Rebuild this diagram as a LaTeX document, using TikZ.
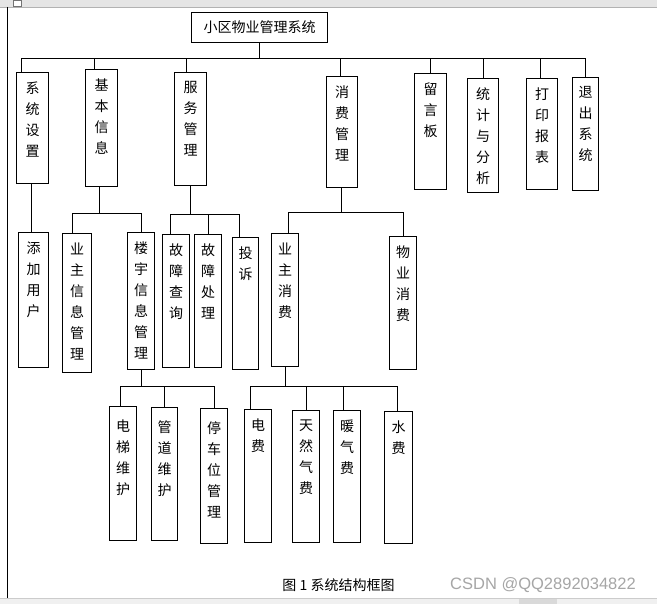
\documentclass[tikz,border=0pt]{standalone}
\usepackage{fontspec}
\setmainfont{Noto Sans CJK SC}
\newfontfamily\wmfont{Liberation Sans}
\usetikzlibrary{calc}

\tikzset{
    modbox/.style={draw, line width=1.1pt, anchor=north west, inner sep=0pt},
    vlabel/.style={anchor=north, yshift=-9.5pt, align=center, inner sep=0pt,
        font=\fontsize{14}{21}\selectfont},
    link/.style={line width=1pt}
}

\begin{document}
\begin{tikzpicture}[x=1pt, y=-1pt]

    % Page frame of the screenshot
    \useasboundingbox (0,0) rectangle (657,604);
    \fill[white] (0,0) rectangle (657,604);
    \fill[black!10] (0,0) rectangle (657,7);
    \draw[black!30] (0,7) -- (657,7);
    \draw[black!55, fill=white] (13,0) rectangle (21,6);
    \fill[black!6] (0,598) rectangle (657,604);
    \draw[black!20] (0,598) -- (657,598);
    \fill[black!15] (519,599) rectangle (557,604);
    \draw[line width=0.8pt] (7.3,7) -- (7.3,598);

    % Root
    \node[modbox, minimum width=136, minimum height=30,
        font=\fontsize{14}{16}\selectfont] (root) at (191,12) {小区物业管理系统};

    % First level modules
    \node[modbox, minimum width=32, minimum height=111, label={[vlabel]north:系\\统\\设\\置}] (sysset) at (16,72) {};
    \node[modbox, minimum width=32, minimum height=117, label={[vlabel]north:基\\本\\信\\息}] (basic) at (85,69) {};
    \node[modbox, minimum width=32, minimum height=113, label={[vlabel]north:服\\务\\管\\理}] (service) at (174,72) {};
    \node[modbox, minimum width=31, minimum height=111, label={[vlabel]north:消\\费\\管\\理}] (consume) at (326,76) {};
    \node[modbox, minimum width=32, minimum height=116, label={[vlabel]north:留\\言\\板}] (board) at (414,73) {};
    \node[modbox, minimum width=31, minimum height=114, label={[vlabel]north:统\\计\\与\\分\\析}] (stat) at (467,78) {};
    \node[modbox, minimum width=31, minimum height=111, label={[vlabel]north:打\\印\\报\\表}] (print) at (526,78) {};
    \node[modbox, minimum width=26, minimum height=113, label={[vlabel]north:退\\出\\系\\统}] (quit) at (572,77) {};

    % Second level modules
    \node[modbox, minimum width=30, minimum height=135, label={[vlabel]north:添\\加\\用\\户}] (adduser) at (18,232) {};
    \node[modbox, minimum width=29, minimum height=139, label={[vlabel]north:业\\主\\信\\息\\管\\理}] (ownerinfo) at (62,233) {};
    \node[modbox, minimum width=27, minimum height=137, label={[vlabel]north:楼\\宇\\信\\息\\管\\理}] (building) at (127,232) {};
    \node[modbox, minimum width=27, minimum height=133, label={[vlabel]north:故\\障\\查\\询}] (faultq) at (162,234) {};
    \node[modbox, minimum width=27, minimum height=133, label={[vlabel]north:故\\障\\处\\理}] (faulth) at (194,234) {};
    \node[modbox, minimum width=26, minimum height=132, label={[vlabel]north:投\\诉}] (complaint) at (232,237) {};
    \node[modbox, minimum width=27, minimum height=133, label={[vlabel]north:业\\主\\消\\费}] (ownercons) at (271,233) {};
    \node[modbox, minimum width=27, minimum height=133, label={[vlabel]north:物\\业\\消\\费}] (propcons) at (389,236) {};

    % Third level modules
    \node[modbox, minimum width=27, minimum height=134, label={[vlabel, yshift=-4pt]north:电\\梯\\维\\护}] (elevator) at (109,406) {};
    \node[modbox, minimum width=26, minimum height=133, label={[vlabel, yshift=-4pt]north:管\\道\\维\\护}] (pipe) at (151,407) {};
    \node[modbox, minimum width=27, minimum height=135, label={[vlabel, yshift=-4pt]north:停\\车\\位\\管\\理}] (parking) at (200,408) {};
    \node[modbox, minimum width=27, minimum height=133, label={[vlabel]north:电\\费}] (elec) at (244,409) {};
    \node[modbox, minimum width=27, minimum height=132, label={[vlabel]north:天\\然\\气\\费}] (gas) at (292,410) {};
    \node[modbox, minimum width=27, minimum height=132, label={[vlabel]north:暖\\气\\费}] (heat) at (333,410) {};
    \node[modbox, minimum width=28, minimum height=132, label={[vlabel]north:水\\费}] (water) at (384,411) {};

    % Root bus
    \draw[link] (root.south) -- ++(0,15) coordinate (rootbus);
    \draw[link] ([xshift=-11]sysset.north |- rootbus) -- (quit.north |- rootbus);
    \draw[link] ([xshift=-11]sysset.north) -- ([xshift=-11]sysset.north |- rootbus);
    \draw[link] ([xshift=-7]basic.north) -- ([xshift=-7]basic.north |- rootbus);
    \draw[link] ([xshift=-4]service.north) -- ([xshift=-4]service.north |- rootbus);
    \draw[link] ([xshift=-2]consume.north) -- ([xshift=-2]consume.north |- rootbus);
    \draw[link] (board.north) -- (board.north |- rootbus);
    \draw[link] (stat.north) -- (stat.north |- rootbus);
    \draw[link] ([xshift=-2]print.north) -- ([xshift=-2]print.north |- rootbus);
    \draw[link] (quit.north) -- (quit.north |- rootbus);

    % System settings
    \draw[link] ([xshift=-1]sysset.south) -- ([xshift=-1]sysset.south |- adduser.north);

    % Basic information bus
    \draw[link] ([xshift=-2]basic.south) -- ++(0,26) coordinate (basicbus);
    \draw[link] ([xshift=-5]ownerinfo.north |- basicbus) -- (building.north |- basicbus);
    \draw[link] ([xshift=-5]ownerinfo.north) -- ([xshift=-5]ownerinfo.north |- basicbus);
    \draw[link] (building.north) -- (building.north |- basicbus);

    % Service bus
    \draw[link] (service.south) -- ++(0,28) coordinate (servbus);
    \draw[link] ([xshift=-6]faultq.north |- servbus) -- ([xshift=-6]complaint.north |- servbus);
    \draw[link] ([xshift=-6]faultq.north) -- ([xshift=-6]faultq.north |- servbus);
    \draw[link] (faulth.north) -- (faulth.north |- servbus);
    \draw[link] ([xshift=-6]complaint.north) -- ([xshift=-6]complaint.north |- servbus);

    % Consumption bus
    \draw[link] ([xshift=-1]consume.south) -- ++(0,24) coordinate (consbus);
    \draw[link] ([xshift=3]ownercons.north |- consbus) -- (propcons.north |- consbus);
    \draw[link] ([xshift=3]ownercons.north) -- ([xshift=3]ownercons.north |- consbus);
    \draw[link] (propcons.north) -- (propcons.north |- consbus);

    % Building bus
    \draw[link] (building.south) -- ++(0,16) coordinate (buildbus);
    \draw[link] ([xshift=-2.5]elevator.north |- buildbus) -- (parking.north |- buildbus);
    \draw[link] ([xshift=-2.5]elevator.north) -- ([xshift=-2.5]elevator.north |- buildbus);
    \draw[link] (pipe.north) -- (pipe.north |- buildbus);
    \draw[link] (parking.north) -- (parking.north |- buildbus);

    % Owner consumption bus
    \draw[link] (ownercons.south) -- ++(0,19) coordinate (feebus);
    \draw[link] ([xshift=-8]elec.north |- feebus) -- ([xshift=-1]water.north |- feebus);
    \draw[link] ([xshift=-8]elec.north) -- ([xshift=-8]elec.north |- feebus);
    \draw[link] (gas.north) -- (gas.north |- feebus);
    \draw[link] ([xshift=-4]heat.north) -- ([xshift=-4]heat.north |- feebus);
    \draw[link] ([xshift=-1]water.north) -- ([xshift=-1]water.north |- feebus);

    % Caption and watermark
    \node[font=\fontsize{14}{16}\selectfont] (caption) at (338.5,585) {图 1 系统结构框图};
    \node[font=\wmfont\fontsize{16.5}{18}\selectfont, text=black!35] (mark) at (543,585) {CSDN @QQ2892034822};

\end{tikzpicture}
\end{document}
